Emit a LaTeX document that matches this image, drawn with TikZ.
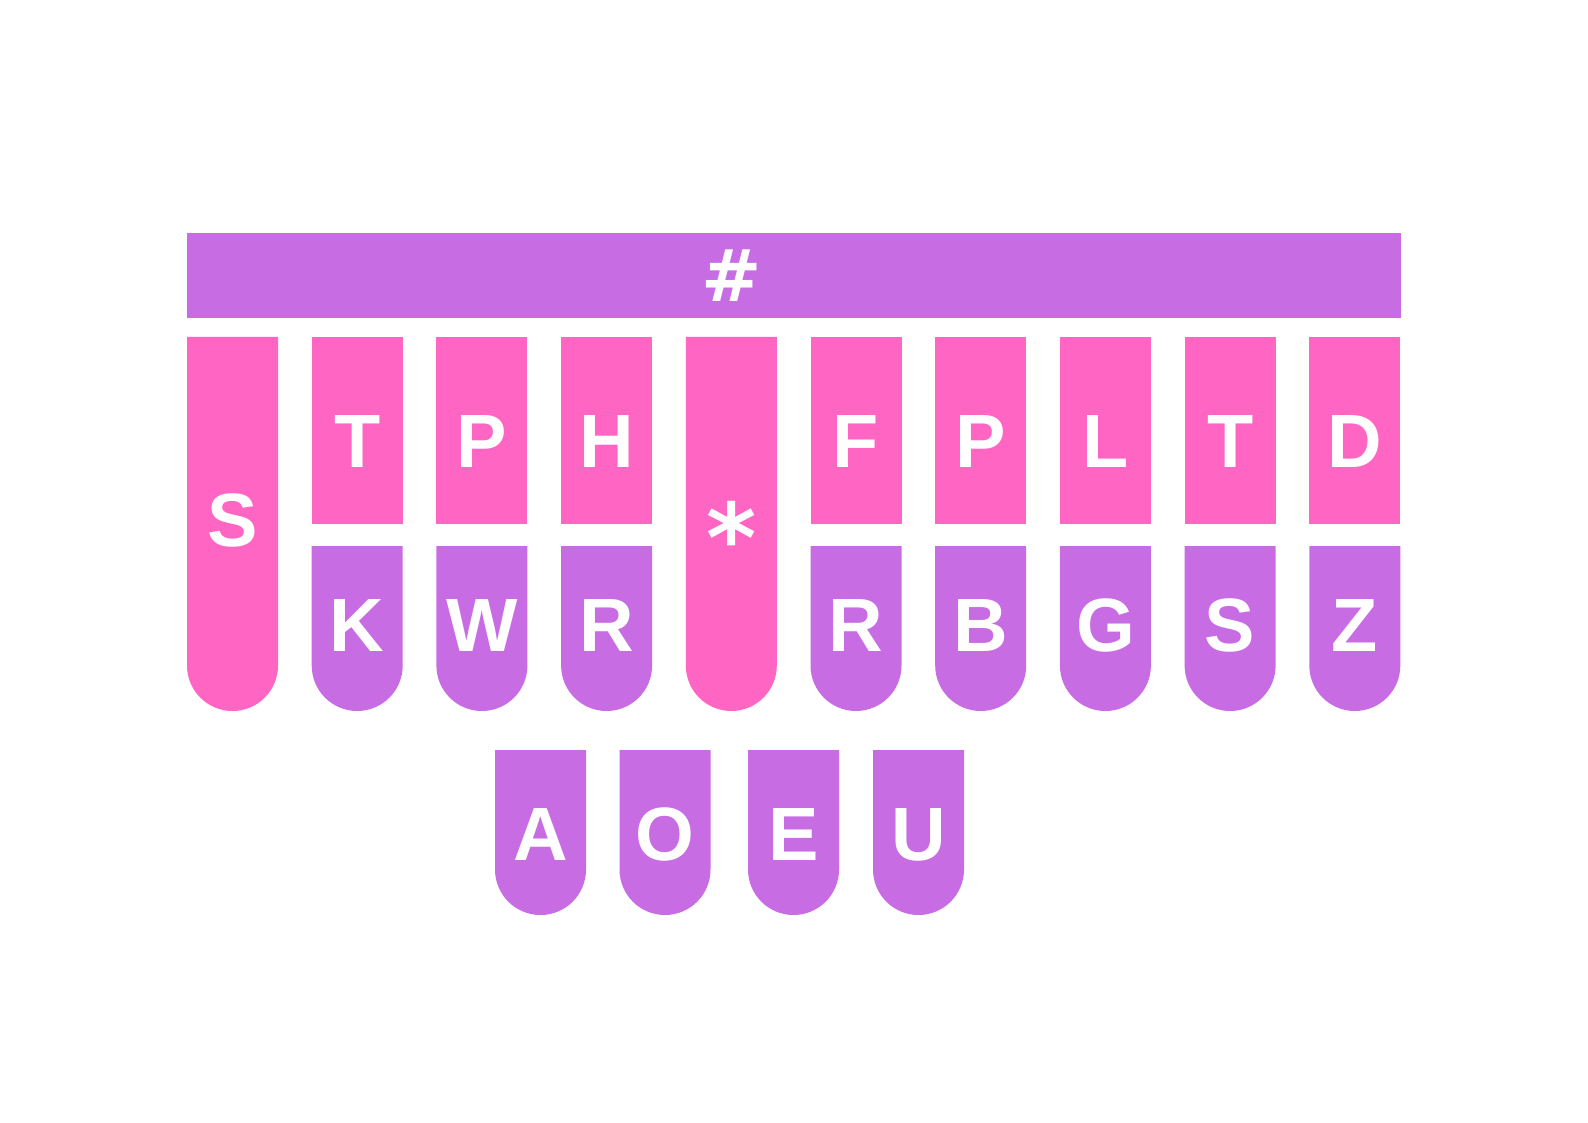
\documentclass[tikz,border=0pt]{standalone}
\usepackage{fontspec}
\setmainfont{Liberation Sans}
\newfontfamily\starfont{DejaVu Sans}
\definecolor{kpurple}{HTML}{C86CE4}
\definecolor{kpink}{HTML}{FF66C4}
\tikzset{
  lbl/.style={text=white, font=\fontsize{75.6}{76}\selectfont\bfseries, inner sep=0pt, anchor=base},
  hashlbl/.style={text=white, font=\fontsize{72}{72}\starfont\bfseries, inner sep=0pt, anchor=base},
  starlbl/.style={text=white, font=\fontsize{96}{96}\starfont\bfseries, inner sep=0pt, anchor=north}
}
\begin{document}
\begin{tikzpicture}[x=1pt,y=-1pt]
\fill[white] (0,0) rectangle (1588,1123);
\useasboundingbox (0,0) rectangle (1588,1123);
% number bar
\fill[kpurple] (187,233) rectangle (1401,318);
\node[hashlbl] (hash) at (731.8,302) {\#};
% upper keys
\foreach \i/\t in {1/T,2/P,3/H,5/F,6/P,7/L,8/T,9/D}{
  \pgfmathsetmacro\xl{187+124.7*\i}
  \fill[kpink] (\xl,337) rectangle (\xl+91,524);
  \node[lbl] (u\i) at (\xl+45.5,467) {\t};
}
% lower keys
\foreach \i/\t in {1/K,2/W,3/R,5/R,6/B,7/G,8/S,9/Z}{
  \pgfmathsetmacro\xl{187+124.7*\i}
  \fill[kpurple] (\xl,546) -- (\xl,665.5) arc[start angle=180, end angle=360, radius=45.5pt] -- (\xl+91,546) -- cycle;
  \node[lbl] (l\i) at (\xl+45.5,651) {\t};
}
% long keys S and *
\foreach \i in {0,4}{
  \pgfmathsetmacro\xl{187+124.7*\i}
  \fill[kpink] (\xl,337) -- (\xl,665.5) arc[start angle=180, end angle=360, radius=45.5pt] -- (\xl+91,337) -- cycle;
}
\node[lbl] (sl) at (232.5,546) {S};
\node[starlbl] (star) at (731.8,501) {*};
% vowel keys
\foreach \c/\t in {540.5/A,665/O,793.5/E,918.5/U}{
  \fill[kpurple] (\c-45.5,750) -- (\c-45.5,869.5) arc[start angle=180, end angle=360, radius=45.5pt] -- (\c+45.5,750) -- cycle;
  \node[lbl] (v\t) at (\c,860) {\t};
}
\end{tikzpicture}
\end{document}
